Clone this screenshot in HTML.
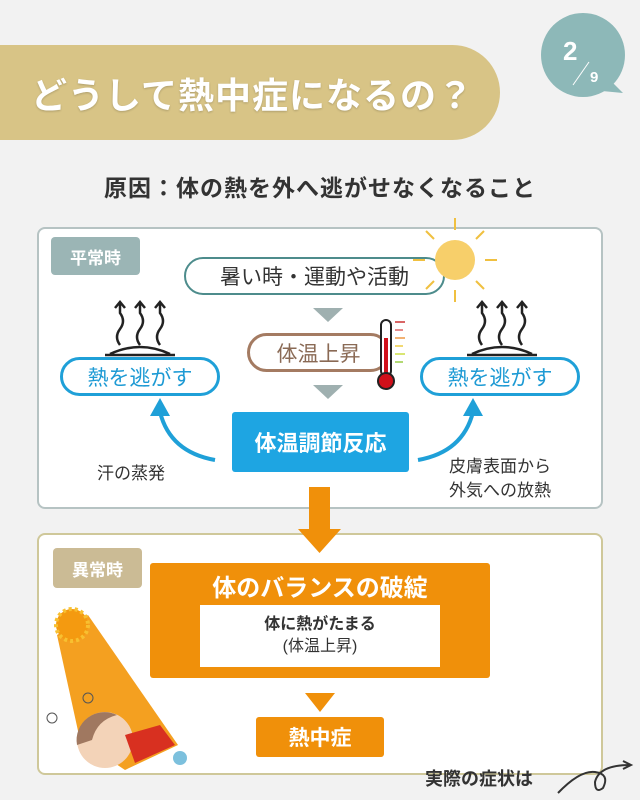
<!DOCTYPE html>
<html><head><meta charset="utf-8"><style>
body{margin:0;width:640px;height:800px;background:#f2f2f2;position:relative;overflow:hidden;font-family:"Liberation Sans","Noto Sans CJK JP",sans-serif}
.a{position:absolute;box-sizing:border-box}
.c{display:flex;align-items:center;justify-content:center;white-space:nowrap}
</style></head><body>
<div class="a" style="left:-20px;top:45px;width:520px;height:95px;background:#d8c486;border-radius:0 48px 48px 0"></div>
<div class="a c" style="left:40px;top:45px;width:425px;height:95px;color:#fff;font-size:36px;font-weight:bold;letter-spacing:1px;text-shadow:0 1px 2px rgba(0,0,0,.2)">どうして熱中症になるの？</div>
<svg class="a" style="left:530px;top:5px" width="110" height="100"><polygon points="80,75 93,88 72,86" fill="#8db8b8"/><circle cx="53" cy="50" r="42" fill="#8db8b8"/><text x="33" y="55" fill="#fff" font-size="26" font-weight="bold" font-family="Liberation Sans">2</text><line x1="43" y1="80" x2="59" y2="57" stroke="#fff" stroke-width="1"/><text x="60" y="77" fill="#fff" font-size="15" font-weight="bold" font-family="Liberation Sans">9</text></svg>
<div class="a c" style="left:0;top:168px;width:640px;height:36px;font-size:23px;font-weight:bold;color:#333;letter-spacing:1px">原因：体の熱を外へ逃がせなくなること</div>

<div class="a" style="left:37px;top:227px;width:566px;height:282px;background:#fff;border:2px solid #b6c3c3;border-radius:8px"></div>
<div class="a c" style="left:51px;top:237px;width:89px;height:38px;background:#9bb5b5;border-radius:4px;color:#fff;font-weight:bold;font-size:17px">平常時</div>
<div class="a c" style="left:184px;top:257px;width:261px;height:38px;border:2px solid #4d8c8c;border-radius:20px;font-size:21px;color:#333;background:#fff">暑い時・運動や活動</div>
<svg class="a" style="left:410px;top:215px" width="90" height="90"><g stroke="#f0c040" stroke-width="2"><line x1="45" y1="3" x2="45" y2="15"/><line x1="45" y1="75" x2="45" y2="87"/><line x1="3" y1="45" x2="15" y2="45"/><line x1="75" y1="45" x2="87" y2="45"/><line x1="16" y1="16" x2="24" y2="24"/><line x1="66" y1="66" x2="74" y2="74"/><line x1="74" y1="16" x2="66" y2="24"/><line x1="24" y1="66" x2="16" y2="74"/></g><circle cx="45" cy="45" r="20" fill="#f7cf6a"/></svg>
<svg class="a" style="left:0;top:300px" width="640" height="110"><polygon points="313,8 343,8 328,22" fill="#9fb0b0"/><polygon points="313,85 343,85 328,99" fill="#9fb0b0"/></svg>
<div class="a c" style="left:247px;top:333px;width:143px;height:39px;border:3px solid #a47b62;border-radius:20px;font-size:21px;color:#8a6a55;background:#fff">体温上昇</div>
<svg class="a" style="left:375px;top:318px" width="40" height="75"><rect x="6" y="2" width="10" height="56" rx="5" fill="#fff" stroke="#222" stroke-width="2"/><rect x="9" y="20" width="4" height="40" fill="#d0101a"/><circle cx="11" cy="63" r="8" fill="#d0101a" stroke="#222" stroke-width="2"/><g stroke-width="1.5"><line x1="20" y1="4" x2="30" y2="4" stroke="#c33"/><line x1="20" y1="12" x2="28" y2="12" stroke="#d66"/><line x1="20" y1="20" x2="30" y2="20" stroke="#e94"/><line x1="20" y1="28" x2="28" y2="28" stroke="#ec4"/><line x1="20" y1="36" x2="30" y2="36" stroke="#cd4"/><line x1="20" y1="44" x2="28" y2="44" stroke="#9c4"/></g></svg>
<div class="a c" style="left:60px;top:357px;width:160px;height:39px;border:3px solid #1fa0d8;border-radius:20px;font-size:21px;color:#1d9ad4;background:#fff">熱を逃がす</div>
<div class="a c" style="left:420px;top:357px;width:160px;height:39px;border:3px solid #1fa0d8;border-radius:20px;font-size:21px;color:#1d9ad4;background:#fff">熱を逃がす</div>
<svg class="a" style="left:0;top:295px" width="640" height="70" fill="none" stroke="#222" stroke-width="2.5">
<g id="h"><path d="M105 60h70M110 59q30-14 60 0"/><path d="M120 50q-6-8 0-16t0-16v-10M115 13l5-6 5 6M140 50q-6-8 0-16t0-16v-10M135 13l5-6 5 6M160 50q-6-8 0-16t0-16v-10M155 13l5-6 5 6"/></g>
<use href="#h" x="362"/></svg>
<svg class="a" style="left:0;top:390px" width="640" height="80" fill="none" stroke="#1fa0d8" stroke-width="4"><path d="M215 70Q170 62 160 22"/><polygon points="150,26 160,8 170,26" fill="#1fa0d8" stroke="none"/><path d="M418 70Q463 62 473 22"/><polygon points="463,26 473,8 483,26" fill="#1fa0d8" stroke="none"/></svg>
<div class="a c" style="left:232px;top:412px;width:177px;height:60px;background:#1ea5e2;border-radius:3px;color:#fff;font-weight:bold;font-size:22px">体温調節反応</div>
<div class="a" style="left:97px;top:459px;font-size:17px;color:#333">汗の蒸発</div>
<div class="a" style="left:449px;top:455px;font-size:17px;color:#333;line-height:24px">皮膚表面から<br>外気への放熱</div>

<div class="a" style="left:37px;top:533px;width:566px;height:242px;background:#fff;border:2px solid #cfc89a;border-radius:8px"></div>
<svg class="a" style="left:296px;top:487px" width="50" height="70"><rect x="13" y="0" width="21" height="45" fill="#f0900a"/><polygon points="2,42 45,42 23.5,66" fill="#f0900a"/></svg>
<div class="a c" style="left:53px;top:548px;width:89px;height:40px;background:#cbbb95;border-radius:4px;color:#fff;font-weight:bold;font-size:17px">異常時</div>
<div class="a" style="left:150px;top:563px;width:340px;height:115px;background:#f0900a;border-radius:3px"></div>
<div class="a c" style="left:150px;top:567px;width:340px;height:36px;color:#fff;font-weight:bold;font-size:24px">体のバランスの破綻</div>
<div class="a" style="left:200px;top:605px;width:240px;height:62px;background:#fff;text-align:center;font-size:16px;color:#333;line-height:22px;padding-top:9px"><b>体に熱がたまる</b><br>(体温上昇)</div>
<svg class="a" style="left:300px;top:690px" width="40" height="25"><polygon points="5,3 35,3 20,22" fill="#f0900a"/></svg>
<div class="a c" style="left:256px;top:717px;width:128px;height:40px;background:#f0900a;border-radius:3px;color:#fff;font-weight:bold;font-size:21px">熱中症</div>
<svg class="a" style="left:30px;top:600px" width="170" height="175"><polygon points="27,35 58,15 148,145 95,170 50,140" fill="#f4a020"/><circle cx="42" cy="25" r="16" fill="#f49a10" stroke="#f8c030" stroke-width="4" stroke-dasharray="3 3"/><circle cx="75" cy="140" r="28" fill="#f3d3b8"/><path d="M47 145a28 28 0 0 1 40-30q-20 5-25 25z" fill="#a07860"/><path d="M95 135l35-10 15 20-40 18z" fill="#d83020"/><circle cx="150" cy="158" r="7" fill="#7cc0dd"/><g fill="none" stroke="#555"><circle cx="22" cy="118" r="5"/><circle cx="58" cy="98" r="5"/></g></svg>
<div class="a" style="left:425px;top:765px;font-size:18px;font-weight:bold;color:#333">実際の症状は</div>
<svg class="a" style="left:555px;top:760px" width="80" height="40" fill="none" stroke="#333" stroke-width="2"><path d="M3 33Q25 10 40 12Q55 14 48 28Q40 34 40 22Q44 5 75 5M68 1l8 4-8 4"/></svg>
</body></html>
